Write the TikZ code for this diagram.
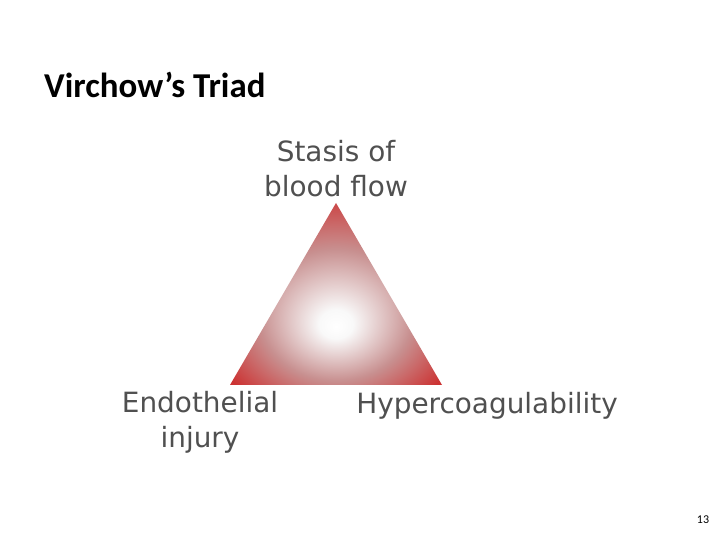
\documentclass[tikz,border=0pt]{standalone}
\usepackage{fontspec}
\setmainfont{DejaVu Sans}
\newfontfamily\titlefont{Carlito}
\definecolor{lbl}{HTML}{505050}
\definecolor{tri}{HTML}{CC3333}
\definecolor{mid}{HTML}{C89090}
\pgfdeclareradialshading{trishade}{\pgfpoint{0bp}{-9bp}}{color(0bp)=(white); color(4bp)=(white!95!gray); color(18bp)=(mid); color(32bp)=(tri); color(50bp)=(tri)}
\begin{document}
\begin{tikzpicture}[x=1bp,y=1bp,
  lab/.style={text=lbl,font=\fontsize{28}{35}\selectfont,align=center,inner sep=0}]
\useasboundingbox (0,0) rectangle (720,540);
\fill[white] (0,0) rectangle (720,540);
\node[anchor=west,inner sep=0,font=\titlefont\bfseries\fontsize{35}{40}\selectfont] (title) at (44,455) {Virchow’s Triad};
\coordinate (top) at (336,337);
\coordinate (bl) at (230,155);
\coordinate (br) at (442,155);
\shade[shading=trishade] (top) -- (bl) -- (br) -- cycle;
\node[lab] (stasis) at (336,371) {Stasis of\\blood flow};
\node[lab] (endo) at (200,118) {Endothelial\\injury};
\node[lab] (hyper) at (487,134) {Hypercoagulability};
\node[inner sep=0,font=\titlefont\fontsize{12}{14}\selectfont] (pg) at (703,20) {13};
\end{tikzpicture}
\end{document}
